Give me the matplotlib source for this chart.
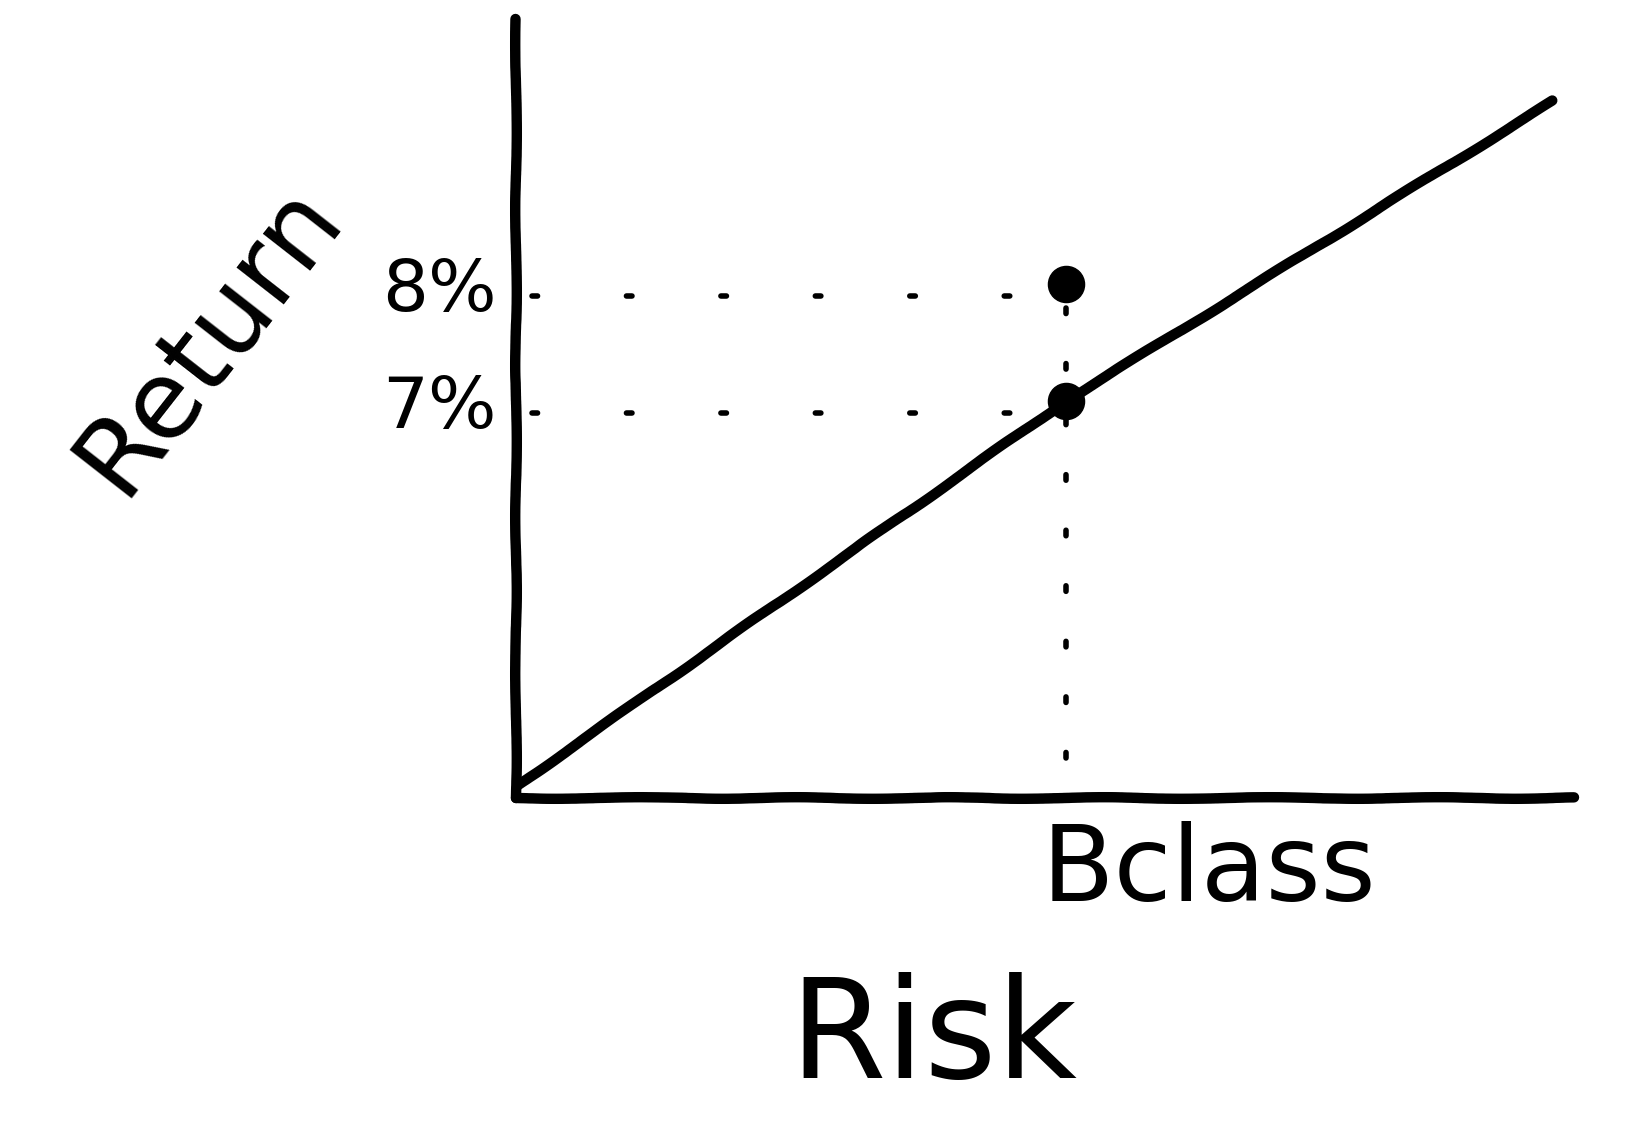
import matplotlib.pyplot as plt

# Data (arbitrary 0-100 units on both axes)
line_risk = [0, 52, 98]
line_return = [1.5, 51, 89.5]

b_class_risk = 52
b_class_returns = [66, 51]
return_labels = ['8%', '7%']

ink = 'black'
wobble = dict(scale=0.8, length=200, randomness=3)

fig = plt.figure(figsize=(16.48, 11.42), dpi=100)
ax = fig.add_axes([0.313, 0.301, 0.642, 0.682])
ax.set_xlim(0, 100)
ax.set_ylim(0, 100)

# Axes drawn as thick hand-drawn strokes
for side in ['top', 'right']:
    ax.spines[side].set_visible(False)
for side in ['left', 'bottom']:
    ax.spines[side].set_linewidth(7.5)
    ax.spines[side].set_capstyle('round')
    ax.spines[side].set_sketch_params(**wobble)

# Diagonal risk/return line
ln, = ax.plot(line_risk, line_return, color=ink, lw=7.5, solid_capstyle='round')
ln.set_sketch_params(**wobble)

# Dotted guide lines from the y axis to the points and down to the x axis
for r in b_class_returns:
    ax.plot([1.5, b_class_risk - 4], [r - 1.5, r - 1.5], color=ink, lw=4,
            linestyle=(0, (1, 16)), dash_capstyle='round')
ax.plot([b_class_risk, b_class_risk], [max(b_class_returns) - 3, 3], color=ink, lw=4,
        linestyle=(0, (1, 9)), dash_capstyle='round')

# B class points
ax.plot([b_class_risk] * len(b_class_returns), b_class_returns, 'o',
        color=ink, markersize=26)

# Return tick labels
ax.set_yticks(b_class_returns)
ax.set_yticklabels(return_labels, fontsize=52)
ax.set_xticks([])
ax.tick_params(axis='y', length=0, pad=14)

ax.set_ylabel('Return', fontsize=78, rotation=52, ha='center', va='center')
ax.yaxis.set_label_coords(-0.29, 0.59)
ax.set_xlabel('Risk', fontsize=100, va='center')
ax.xaxis.set_label_coords(0.395, -0.31)

ax.text(65.5, -9.5, 'Bclass', fontsize=76, ha='center', va='center', clip_on=False)

fig.savefig('out.png', dpi=100)
